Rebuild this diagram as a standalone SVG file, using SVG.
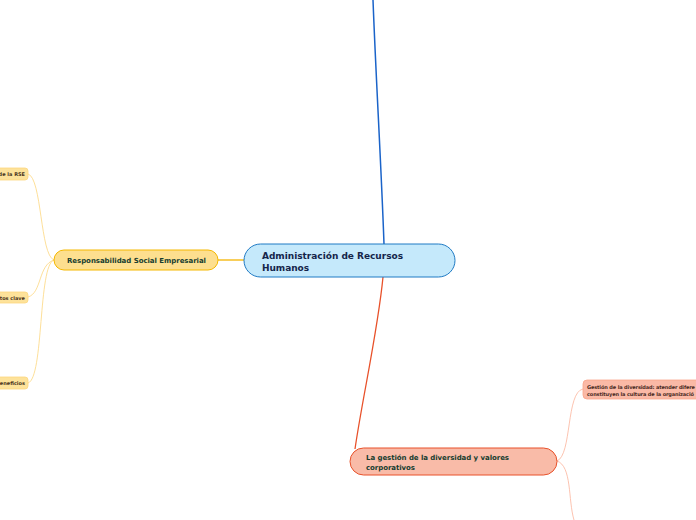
<svg xmlns="http://www.w3.org/2000/svg" width="696" height="520" viewBox="0 0 696 520">
<style>
text{font-family:"DejaVu Sans","Liberation Sans",sans-serif;font-weight:bold}
.main{font-size:9px;fill:#14254a}
.l1{font-size:7px;fill:#173d2f}
.small{font-size:5px;fill:#4a3520}
.smallr{font-size:5px;fill:#4a2a1f}
</style>
<rect width="696" height="520" fill="#ffffff"/>
<g id="connectors" fill="none">
<path d="M384,244 C381,160 376,80 373,0" stroke="#1a63c9" stroke-width="1.5"/>
<path d="M383,277 C378,330 362,400 355,449" stroke="#e8512a" stroke-width="1.3"/>
<path d="M218,260 L244,260" stroke="#f5b400" stroke-width="1.3"/>
<path d="M54,260 C40,255 42,178 28,174" stroke="#fcd77f" stroke-width="0.8"/>
<path d="M54,260 C38,265 42,293 28,297" stroke="#fcd77f" stroke-width="0.8"/>
<path d="M54,260 C38,265 44,378 28,383" stroke="#fcd77f" stroke-width="0.8"/>
<path d="M557,461 C572,455 566,392 583,389" stroke="#fbb49c" stroke-width="0.8"/>
<path d="M557,461 C572,466 568,500 574,520" stroke="#fbb49c" stroke-width="0.8"/>
</g>
<g id="central">
<rect x="244" y="244" width="211" height="33" rx="16.5" fill="#c5e9fb" stroke="#1f7ac4" stroke-width="1"/>
<text class="main" x="262" y="259" textLength="141">Administración de Recursos</text>
<text class="main" x="262" y="271" textLength="47">Humanos</text>
</g>
<g id="rse">
<rect x="54" y="250" width="164" height="20" rx="10" fill="#fddf8f" stroke="#f5b800" stroke-width="1"/>
<text class="l1" x="67" y="263" textLength="139">Responsabilidad Social Empresarial</text>
</g>
<g id="rse1">
<rect x="-10" y="168" width="38" height="12" rx="3" fill="#fde29a" stroke="#fcd77f" stroke-width="0.8"/>
<text class="small" x="25" y="176" text-anchor="end">de la RSE</text>
</g>
<g id="rse2">
<rect x="-10" y="292" width="38" height="11" rx="3" fill="#fde29a" stroke="#fcd77f" stroke-width="0.8"/>
<text class="small" x="25" y="299.5" text-anchor="end">tos clave</text>
</g>
<g id="rse3">
<rect x="-10" y="377" width="38" height="12" rx="3" fill="#fde29a" stroke="#fcd77f" stroke-width="0.8"/>
<text class="small" x="25" y="385" text-anchor="end">beneficios</text>
</g>
<g id="diversidad">
<rect x="350" y="448" width="207" height="27" rx="13.5" fill="#f9bba8" stroke="#e8512a" stroke-width="1"/>
<text class="l1" x="366" y="460" textLength="143">La gestión de la diversidad y valores</text>
<text class="l1" x="366" y="470" textLength="49">corporativos</text>
</g>
<g id="div1">
<rect x="583" y="380" width="130" height="19" rx="4" fill="#fab9a6" stroke="#f9a48a" stroke-width="0.8"/>
<text class="smallr" x="587" y="388.5" textLength="108">Gestión de la diversidad: atender difere</text>
<text class="smallr" x="587" y="395.5" textLength="107">constituyen la cultura de la organizació</text>
</g>
</svg>
